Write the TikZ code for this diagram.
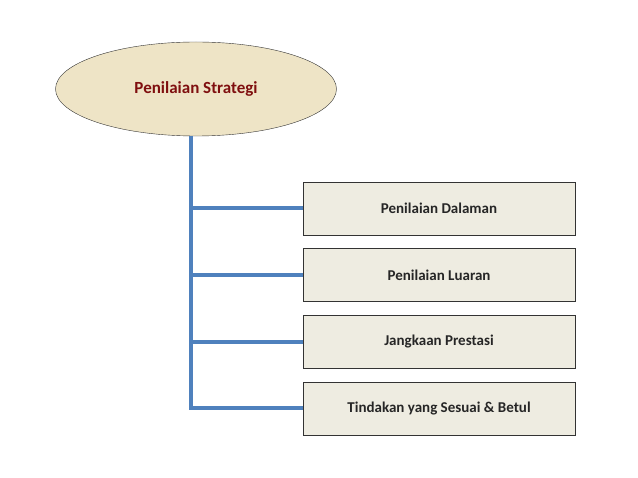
\documentclass[tikz,border=0pt]{standalone}
\usepackage{fontspec}
\setmainfont{Carlito}
\usetikzlibrary{shapes.geometric}
\definecolor{ellfill}{HTML}{EEE4C6}
\definecolor{boxfill}{HTML}{EEECE1}
\definecolor{titlered}{HTML}{7F0F0F}
\definecolor{lineblue}{HTML}{4F81BD}
\tikzset{
  item/.style={draw=black!80,fill=boxfill,minimum width=272pt,minimum height=53pt,font=\bfseries\fontsize{15}{18}\selectfont,text=black!85,inner sep=0pt},
  conn/.style={lineblue,line width=4pt}
}
\begin{document}
\begin{tikzpicture}[x=1pt,y=-1pt]
\useasboundingbox (0,0) rectangle (638,478);
\node[ellipse,draw=black!80,fill=ellfill,minimum width=281pt,minimum height=94pt,font=\bfseries\fontsize{17}{20}\selectfont,text=titlered,inner sep=0pt] (root) at (196,89) {Penilaian Strategi};
\node[item] (b1) at (439,208.5) {Penilaian Dalaman};
\node[item] (b2) at (439,275) {Penilaian Luaran};
\node[item] (b3) at (439,342) {Jangkaan Prestasi};
\node[item] (b4) at (439,408.5) {Tindakan yang Sesuai \& Betul};
\coordinate (top) at (191,136);
\draw[conn] (top) -- (top |- b4.west) -- (b4.west);
\draw[conn] (top |- b1.west) -- (b1.west);
\draw[conn] (top |- b2.west) -- (b2.west);
\draw[conn] (top |- b3.west) -- (b3.west);
\end{tikzpicture}
\end{document}
